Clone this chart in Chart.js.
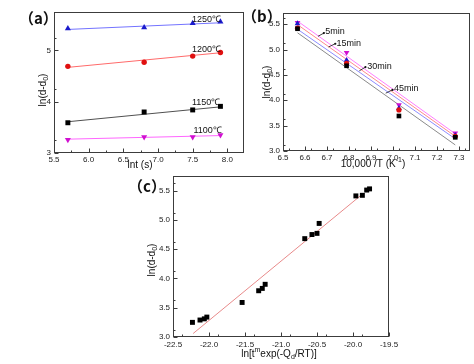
<!DOCTYPE html>
<html><head><meta charset="utf-8">
<script src="https://cdn.jsdelivr.net/npm/chart.js@4/dist/chart.umd.min.js"></script>
<style>
html,body{margin:0;padding:0;background:#fff;}
#wrap{position:relative;width:474px;height:364px;overflow:hidden;background:#fff;}
canvas{position:absolute;}
</style></head><body>
<div id="wrap">
<canvas id="ca" width="250" height="172" style="left:0;top:0;width:250px;height:172px"></canvas>
<canvas id="cb" width="228" height="172" style="left:246px;top:0;width:228px;height:172px"></canvas>
<canvas id="cc" width="300" height="194" style="left:120px;top:170px;width:300px;height:194px"></canvas>
</div>
<script>
// ---------- Panel (a) data ----------
const A_LNT   = [5.7, 6.8, 7.5, 7.9];
const A_1250  = [5.43, 5.45, 5.53, 5.56];
const A_1200  = [4.69, 4.77, 4.89, 4.96];
const A_1150  = [3.59, 3.80, 3.84, 3.91];
const A_1100  = [3.26, 3.31, 3.31, 3.35];
const A_FIT_X    = [5.7, 7.9];
const A_FIT_1250 = [5.41, 5.54];
const A_FIT_1200 = [4.67, 4.955];
const A_FIT_1150 = [3.61, 3.90];
const A_FIT_1100 = [3.27, 3.34];
const A_LABELS   = ['1250℃', '1200℃', '1150℃', '1100℃'];
const A_XTICKS   = [5.5, 6.0, 6.5, 7.0, 7.5, 8.0];
const A_YTICKS   = [3, 4, 5];

// ---------- Panel (b) data ----------
const B_INVT  = [6.566, 6.789, 7.027, 7.283];
const B_5MIN  = [5.41, 4.68, 3.69, 3.27];
const B_15MIN = [5.42, 4.73, 3.81, 3.29];
const B_30MIN = [5.51, 4.79, 3.84, 3.31];
const B_45MIN = [5.53, 4.94, 3.91, 3.35];
const B_FIT_X   = [6.566, 7.283];
const B_FIT_L1  = [5.56, 3.34];
const B_FIT_L2  = [5.49, 3.29];
const B_FIT_L3  = [5.40, 3.24];
const B_FIT_L4  = [5.33, 3.12];
const B_LABELS  = ['5min', '15min', '30min', '45min'];
const B_XTICKS  = [6.5, 6.6, 6.7, 6.8, 6.9, 7.0, 7.1, 7.2, 7.3];
const B_YTICKS  = [3.0, 3.5, 4.0, 4.5, 5.0, 5.5];

// ---------- Panel (c) data ----------
const C_X = [-22.23, -22.125, -22.065, -22.03, -21.54, -21.31, -21.26, -21.22,
             -20.67, -20.57, -20.50, -20.47, -19.96, -19.87, -19.81, -19.77];
const C_Y = [3.25, 3.29, 3.31, 3.34, 3.59, 3.79, 3.83, 3.90,
             4.68, 4.75, 4.77, 4.94, 5.41, 5.42, 5.51, 5.53];
const C_FIT_X = [-22.22, -19.86];
const C_FIT_Y = [3.06, 5.45];
const C_XTICKS = [-22.5, -22.0, -21.5, -21.0, -20.5, -20.0, -19.5];
const C_YTICKS = [3.0, 3.5, 4.0, 4.5, 5.0, 5.5];

const FONT = '"Liberation Sans", Arial, sans-serif';
const pts = (xs, ys) => xs.map((x, i) => ({x, y: ys[i]}));

function richText(ctx, segs, x, y, size, rotate) {
  ctx.save();
  ctx.translate(x, y);
  if (rotate) ctx.rotate(-Math.PI / 2);
  const base = size + 'px ' + FONT;
  const small = Math.round(size * 0.72) + 'px ' + FONT;
  let w = 0;
  segs.forEach(s => { ctx.font = (s.sub || s.sup) ? small : base; s.w = ctx.measureText(s.t).width; w += s.w; });
  let cx = -w / 2;
  ctx.textBaseline = 'middle';
  ctx.fillStyle = '#111';
  segs.forEach(s => {
    ctx.font = (s.sub || s.sup) ? small : base;
    const dy = s.sub ? size * 0.3 : (s.sup ? -size * 0.35 : 0);
    ctx.fillText(s.t, cx, dy);
    cx += s.w;
  });
  ctx.restore();
}

function panelLabel(ctx, letter, x, y) {
  ctx.save();
  ctx.font = 'bold 15px "Noto Sans CJK SC", sans-serif';
  ctx.fillStyle = '#111';
  ctx.textBaseline = 'middle';
  ctx.fillText('（' + letter + '）', x, y);
  ctx.restore();
}

function frame(chart, xStep, yStep) {
  const {ctx, chartArea: {left, right, top, bottom}, scales: {x, y}} = chart;
  ctx.save();
  ctx.strokeStyle = '#3c3c3c';
  ctx.lineWidth = 1;
  ctx.strokeRect(Math.round(left) + 0.5, Math.round(top) + 0.5, Math.round(right - left) - 1, Math.round(bottom - top) - 1);
  ctx.beginPath();
  const bx = Math.round(bottom) - 0.5, lx = Math.round(left) + 0.5;
  x.ticks.forEach(t => {
    const p = Math.round(x.getPixelForValue(t.value)) + 0.5;
    ctx.moveTo(p, bx); ctx.lineTo(p, bx - 4);
    const m = x.getPixelForValue(t.value + xStep / 2);
    if (m < right - 1) { const q = Math.round(m) + 0.5; ctx.moveTo(q, bx); ctx.lineTo(q, bx - 2); }
  });
  y.ticks.forEach(t => {
    const p = Math.round(y.getPixelForValue(t.value)) + 0.5;
    ctx.moveTo(lx, p); ctx.lineTo(lx + 4, p);
    const m = y.getPixelForValue(t.value + yStep / 2);
    if (m > top + 1) { const q = Math.round(m) + 0.5; ctx.moveTo(lx, q); ctx.lineTo(lx + 2, q); }
  });
  ctx.stroke();
  ctx.restore();
}

function axisOpts(min, max, ticksArr, fmt, fixedSize, isX, pad) {
  return {
    type: 'linear', min, max,
    grid: {display: false, drawTicks: false, tickLength: 0}, border: {display: false},
    afterBuildTicks: s => { s.ticks = ticksArr.map(v => ({value: v})); },
    afterFit: s => {
      if (isX) { s.height = fixedSize; s.paddingLeft = 0; s.paddingRight = 0; }
      else { s.width = fixedSize; s.paddingTop = 0; s.paddingBottom = 0; }
    },
    ticks: {font: {size: 8, family: FONT}, color: '#222', padding: pad, maxRotation: 0, autoSkip: false,
            callback: v => fmt(v)}
  };
}

const baseOpts = (pad, xs, ys) => ({
  responsive: false, animation: false, events: [],
  layout: {padding: pad},
  plugins: {legend: {display: false}, tooltip: {enabled: false}},
  scales: {x: xs, y: ys}
});

function scatterSet(data, style, color, radius, rot) {
  return {type: 'scatter', data, pointStyle: style, pointRadius: radius, pointRotation: rot || 0,
          backgroundColor: color, borderColor: color, borderWidth: 0, showLine: false, order: 1};
}
function lineSet(data, color) {
  return {type: 'scatter', data, showLine: true, pointRadius: 0, borderColor: color, borderWidth: 1, order: 2};
}

// ---------- Chart (a) ----------
new Chart(document.getElementById('ca'), {
  type: 'scatter',
  data: {datasets: [
    lineSet(pts(A_FIT_X, A_FIT_1250), '#7373ff'),
    lineSet(pts(A_FIT_X, A_FIT_1200), '#ff6a6a'),
    lineSet(pts(A_FIT_X, A_FIT_1150), '#505050'),
    lineSet(pts(A_FIT_X, A_FIT_1100), '#ff66ff'),
    scatterSet(pts(A_LNT, A_1250), 'triangle', '#1a1acc', 3.5),
    scatterSet(pts(A_LNT, A_1200), 'circle', '#e01010', 2.7),
    scatterSet(pts(A_LNT, A_1150), 'rect', '#000', 3.5),
    scatterSet(pts(A_LNT, A_1100), 'triangle', '#d010d0', 3.5, 180)
  ]},
  options: baseOpts({left: 0, top: 12, right: 6, bottom: 0},
    axisOpts(5.5, 8.24, A_XTICKS, v => v.toFixed(1), 19, true, 2),
    axisOpts(3, 5.75, A_YTICKS, v => String(v), 54, false, 3)),
  plugins: [{id: 'decorA', afterDraw(chart) {
    frame(chart, 0.5, 0.5);
    const {ctx, scales: {x, y}} = chart;
    const lbl = [[7.49, 5.61], [7.49, 5.01], [7.49, 3.99], [7.51, 3.43]];
    ctx.save();
    ctx.font = '9px ' + FONT; ctx.fillStyle = '#111'; ctx.textBaseline = 'middle';
    A_LABELS.forEach((t, i) => ctx.fillText(t, x.getPixelForValue(lbl[i][0]), y.getPixelForValue(lbl[i][1])));
    ctx.restore();
    richText(ctx, [{t: 'ln(d-d'}, {t: '0', sub: true}, {t: ')'}], 43, 90, 10, true);
    richText(ctx, [{t: 'lnt (s)'}], 140, 165, 10, false);
    panelLabel(ctx, 'a', 19, 18);
  }}]
});

// ---------- Chart (b) ----------
new Chart(document.getElementById('cb'), {
  type: 'scatter',
  data: {datasets: [
    lineSet(pts(B_FIT_X, B_FIT_L1), '#ff7cff'),
    lineSet(pts(B_FIT_X, B_FIT_L2), '#ff8a8a'),
    lineSet(pts(B_FIT_X, B_FIT_L3), '#8c8cff'),
    lineSet(pts(B_FIT_X, B_FIT_L4), '#8a8a8a'),
    scatterSet(pts(B_INVT, B_5MIN), 'rect', '#000', 3.3),
    scatterSet(pts(B_INVT, B_15MIN), 'circle', '#e01010', 2.6),
    scatterSet(pts(B_INVT, B_30MIN), 'triangle', '#1a1acc', 3.3),
    scatterSet(pts(B_INVT, B_45MIN), 'triangle', '#d010d0', 3.3, 180)
  ]},
  options: baseOpts({left: 0, top: 13, right: 2, bottom: 0},
    axisOpts(6.5, 7.35, B_XTICKS, v => v.toFixed(1), 21, true, 2),
    axisOpts(3.0, 5.72, B_YTICKS, v => v.toFixed(1), 37, false, 3)),
  plugins: [{id: 'decorB', afterDraw(chart) {
    frame(chart, 0.05, 0.25);
    const {ctx, scales: {x, y}} = chart;
    const ann = [
      {t: [6.692, 5.35], a: [6.659, 5.26], b: [6.688, 5.33]},
      {t: [6.743, 5.12], a: [6.707, 5.05], b: [6.740, 5.12]},
      {t: [6.883, 4.67], a: [6.847, 4.58], b: [6.877, 4.66]},
      {t: [7.005, 4.23], a: [6.967, 4.14], b: [7.000, 4.21]}
    ];
    ctx.save();
    ctx.font = '9px ' + FONT; ctx.fillStyle = '#111'; ctx.strokeStyle = '#111'; ctx.textBaseline = 'middle';
    ann.forEach((o, i) => {
      const ax = x.getPixelForValue(o.a[0]), ay = y.getPixelForValue(o.a[1]);
      const bx = x.getPixelForValue(o.b[0]), by = y.getPixelForValue(o.b[1]);
      ctx.beginPath(); ctx.lineWidth = 0.8; ctx.moveTo(ax, ay); ctx.lineTo(bx, by); ctx.stroke();
      ctx.beginPath(); ctx.arc(bx - 0.5, by + 0.3, 1.1, 0, Math.PI * 2); ctx.fill();
      ctx.fillText(B_LABELS[i], x.getPixelForValue(o.t[0]), y.getPixelForValue(o.t[1]));
    });
    ctx.restore();
    richText(ctx, [{t: 'ln(d-d'}, {t: '0', sub: true}, {t: ')'}], 21, 82, 10, true);
    richText(ctx, [{t: '10,000 /T (K'}, {t: '-1', sup: true}, {t: ')'}], 127, 164, 10, false);
    panelLabel(ctx, 'b', -4, 16);
  }}]
});

// ---------- Chart (c) ----------
new Chart(document.getElementById('cc'), {
  type: 'scatter',
  data: {datasets: [
    lineSet(pts(C_FIT_X, C_FIT_Y), '#e88a8a'),
    scatterSet(pts(C_X, C_Y), 'rect', '#000', 3.5)
  ]},
  options: baseOpts({left: 0, top: 6, right: 31, bottom: 0},
    axisOpts(-22.5, -19.5, C_XTICKS, v => v.toFixed(1), 27, true, 3),
    axisOpts(3.0, 5.75, C_YTICKS, v => v.toFixed(1), 53, false, 3)),
  plugins: [{id: 'decorC', afterDraw(chart) {
    frame(chart, 0.25, 0.25);
    const {ctx} = chart;
    richText(ctx, [{t: 'ln(d-d'}, {t: '0', sub: true}, {t: ')'}], 32, 90, 10, true);
    richText(ctx, [{t: 'ln[t'}, {t: 'm', sup: true}, {t: 'exp(-Q'}, {t: 'd', sub: true}, {t: '/RT)]'}], 159, 184, 10, false);
    panelLabel(ctx, 'c', 8, 16);
  }}]
});
</script>
</body></html>
